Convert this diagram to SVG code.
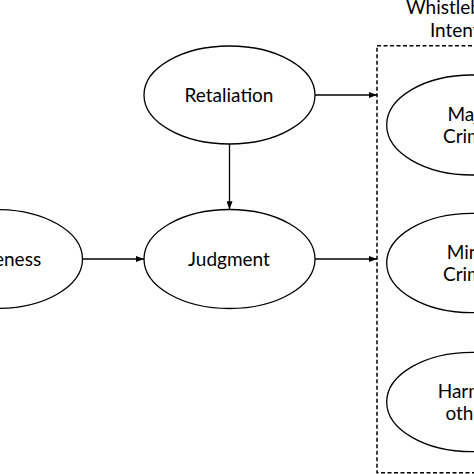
<svg xmlns="http://www.w3.org/2000/svg" width="474" height="474" viewBox="0 0 474 474">
<style>
.n{fill:#fff;stroke:#000;stroke-width:1.3}
.t{font-family:Lato,"Open Sans","Liberation Sans",sans-serif;font-size:19px;fill:#000;text-anchor:middle}
.c{stroke:#000;stroke-width:1.3;fill:none}
</style>
<defs>
<marker id="ah" markerWidth="8" markerHeight="6" refX="8" refY="3" orient="auto" markerUnits="userSpaceOnUse">
<path d="M0,0 L8,3 L0,6 Z" fill="#000"/>
</marker>
</defs>
<rect width="474" height="474" fill="#fff"/>
<g id="group-whistleblowing">
<rect x="377" y="45.7" width="200" height="427" fill="none" stroke="#000" stroke-width="1.5" stroke-dasharray="4 2.5"/>
<text class="t" x="471" y="14">Whistleblowing</text>
<text class="t" x="472" y="37">Intentions</text>
</g>
<g id="connectors">
<line class="c" x1="229.5" y1="144" x2="229.5" y2="209.3" marker-end="url(#ah)"/>
<line class="c" x1="82.5" y1="259" x2="144" y2="259" marker-end="url(#ah)"/>
<line class="c" x1="315" y1="95" x2="377" y2="95" marker-end="url(#ah)"/>
<line class="c" x1="315" y1="259" x2="377" y2="259" marker-end="url(#ah)"/>
</g>
<g id="awareness">
<ellipse class="n" cx="-3" cy="259" rx="85.5" ry="49.5"/>
<text class="t" x="-4" y="265.5">Awareness</text>
</g>
<g id="retaliation">
<ellipse class="n" cx="229.5" cy="95" rx="85.5" ry="49"/>
<text class="t" x="229" y="101.5">Retaliation</text>
</g>
<g id="judgment">
<ellipse class="n" cx="229.5" cy="259" rx="85.5" ry="49.5"/>
<text class="t" x="229" y="265.5">Judgment</text>
</g>
<g id="major-crimes">
<ellipse class="n" cx="472" cy="125" rx="85.3" ry="50"/>
<text class="t" x="472" y="120.5">Major</text>
<text class="t" x="472" y="143">Crimes</text>
</g>
<g id="minor-crimes">
<ellipse class="n" cx="472" cy="263" rx="85.3" ry="49.7"/>
<text class="t" x="472" y="258.5">Minor</text>
<text class="t" x="472" y="281">Crimes</text>
</g>
<g id="harm-to-others">
<ellipse class="n" cx="472" cy="402" rx="85.3" ry="49.7"/>
<text class="t" x="472" y="397.5">Harm to</text>
<text class="t" x="472" y="420">others</text>
</g>
</svg>
